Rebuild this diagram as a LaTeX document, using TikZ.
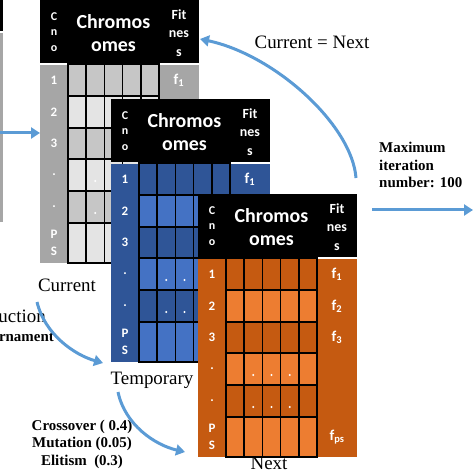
\documentclass[tikz,border=0pt]{standalone}
\usepackage{fontspec}
\setmainfont{Liberation Serif}
\newfontfamily\tabfont{Carlito}
\usetikzlibrary{arrows.meta}

\definecolor{flowblue}{RGB}{91,155,213}
\definecolor{grayside}{RGB}{166,166,166}
\definecolor{graydark}{RGB}{198,198,198}
\definecolor{graylight}{RGB}{228,228,228}
\definecolor{blueside}{RGB}{47,85,151}
\definecolor{bluedark}{RGB}{47,85,151}
\definecolor{bluelight}{RGB}{68,114,196}
\definecolor{orangeside}{RGB}{197,90,17}
\definecolor{orangedark}{RGB}{197,90,17}
\definecolor{orangelight}{RGB}{237,125,49}

\tikzset{
  tabtext/.style={text=white, align=center, inner sep=0pt},
  cellline/.style={draw=black, line width=1.6bp},
  flow/.style={draw=flowblue, line width=3bp, -{Triangle[length=9bp,width=11bp]}},
  caption/.style={inner sep=0pt, font=\fontsize{19}{21}\selectfont},
  note/.style={inner sep=0pt, font=\bfseries\fontsize{15}{17.5}\selectfont},
}

% #1 shift, #2 name, #3 side colour, #4 dark row, #5 light row, #6 fitness labels shown
\newcommand\poptable[6]{%
  \begin{scope}[shift={#1}]
    \fill[black] (0,0) rectangle (159,63);
    \fill[#3] (0,65) rectangle (28,263);
    \fill[#3] (119,65) rectangle (159,263);
    \foreach \top/\bot/\cc in {64/96/#4,96/128/#5,128/159/#4,159/191/#5,191/223/#4,223/263/#5}
      \foreach \c in {0,...,4}
        \filldraw[fill=\cc,cellline] ({28+18.2*\c},\top) rectangle ({28+18.2*(\c+1)},\bot);
    \foreach \yy in {181,213}
      \foreach \c in {1,2,3}
        \fill[white] ({28+18.2*(\c+0.5)},\yy) circle (1.1);
    \node[tabtext, font=\tabfont\bfseries\fontsize{12}{15.5}\selectfont] (#2-cno) at (14,32) {C\\n\\o};
    \node[tabtext, font=\tabfont\bfseries\fontsize{20}{23}\selectfont] (#2-chrom) at (73.5,33) {Chromos\\omes};
    \node[tabtext, font=\tabfont\bfseries\fontsize{14}{18.5}\selectfont] (#2-fit) at (139,33) {Fit\\nes\\s};
    \foreach \k/\lab/\yy in {1/1/80,2/2/112,3/3/143.5,4/./175,5/./207,6/{P\\S}/243}
      \node[tabtext, font=\tabfont\bfseries\fontsize{13}{17}\selectfont] (#2-n\k) at (14,\yy) {\lab};
    \foreach \k/\lab/\yy in {#6}
      \node[tabtext, font=\tabfont\bfseries\fontsize{15}{17}\selectfont] (#2-f\k) at (139,\yy) {f\textsubscript{\lab}};
  \end{scope}}

\begin{document}
\begin{tikzpicture}[x=1bp,y=-1bp]
  \useasboundingbox (0,0) rectangle (474,474);
  % population cut at the left edge
  \fill[black] (0,0) rectangle (3,31);
  \fill[grayside] (0,33) rectangle (3,222);

  \poptable{(40,0)}{cur}{grayside}{graydark}{graylight}{1/1/80}
  \poptable{(111,99)}{tmp}{blueside}{bluedark}{bluelight}{1/1/80}
  \poptable{(198,194)}{nxt}{orangeside}{orangedark}{orangelight}{1/1/80,2/2/112,3/3/143.5,6/ps/243}

  \node[caption] (current) at (67,285) {Current};
  \node[caption] (temporary) at (152,380) {Temporary};
  \node[caption] (next) at (269,463) {Next};
  \node[caption] (curnext) at (312,42) {Current = Next};
  \node[caption, anchor=east] (reprod) at (46,316) {uction};
  \node[note, anchor=east] (tourn) at (54,337) {rnament};
  \node[note, anchor=west, align=left] (maxit) at (379,165) {Maximum\\iteration\\number: 100};
  \node[note, align=center] (ops) at (82,444) {Crossover ( 0.4)\\Mutation (0.05)\\Elitism~~(0.3)};

  \coordinate (inL) at (0,133);
  \coordinate (inR) at (40,133);
  \coordinate (outL) at (372,210);
  \coordinate (outR) at (473,210);
  \coordinate (loopA) at (356,178);
  \coordinate (loopB) at (200,39);
  \coordinate (selA) at (37,302);
  \coordinate (selB) at (103,363);
  \coordinate (genA) at (118,392);
  \coordinate (genB) at (185,452);

  \draw[flow] (inL) -- (inR);
  \draw[flow] (outL) -- (outR);
  \draw[flow] (loopA) .. controls (352,125) and (275,55) .. (loopB);
  \draw[flow] (selA) .. controls (45,335) and (75,355) .. (selB);
  \draw[flow] (genA) .. controls (125,425) and (155,445) .. (genB);
\end{tikzpicture}
\end{document}
